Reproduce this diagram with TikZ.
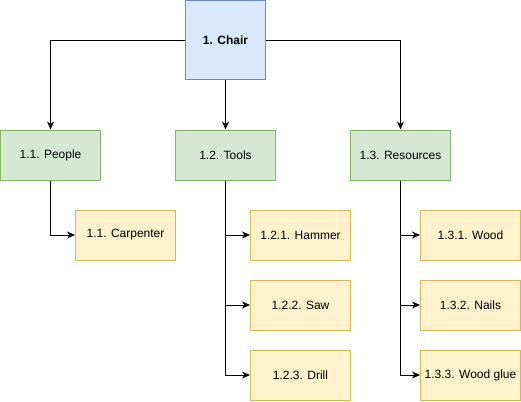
\documentclass[tikz,border=0pt]{standalone}
\usepackage{fontspec}
\setmainfont{Liberation Sans}
\usetikzlibrary{arrows.meta}
\definecolor{bfill}{HTML}{DAE8FC}\definecolor{bline}{HTML}{6C8EBF}
\definecolor{gfill}{HTML}{D5E8D4}\definecolor{gline}{HTML}{82B366}
\definecolor{yfill}{HTML}{FFF2CC}\definecolor{yline}{HTML}{D6B656}
\begin{document}
\begin{tikzpicture}[x=1pt,y=-1pt,
  box/.style={draw,line width=1pt,minimum width=100pt,minimum height=50pt,inner sep=0pt,font=\fontsize{12}{14}\selectfont},
  rootbox/.style={box,fill=bfill,draw=bline,minimum width=80pt,minimum height=79pt,font=\fontsize{12}{14}\selectfont\bfseries},
  lvl/.style={box,fill=gfill,draw=gline},
  leaf/.style={box,fill=yfill,draw=yline},
  conn/.style={line width=1pt,-{Stealth[length=8pt,width=7pt,inset=2.5pt]}}]
\useasboundingbox (0,0) rectangle (521,401);
\node[rootbox] (root) at (225.5,40.5) {1. Chair};
\node[lvl] (people) at (50.5,155) {1.1. People};
\node[lvl] (tools) at (225.5,155) {1.2. Tools};
\node[lvl] (res) at (400.5,155) {1.3. Resources};
\node[leaf] (carp) at (125.5,235) {1.1. Carpenter};
\node[leaf] (hammer) at (300.5,235) {1.2.1. Hammer};
\node[leaf] (saw) at (300.5,305) {1.2.2. Saw};
\node[leaf] (drill) at (300.5,375) {1.2.3. Drill};
\node[leaf] (wood) at (470.5,235) {1.3.1. Wood};
\node[leaf] (nails) at (470.5,305) {1.3.2. Nails};
\node[leaf] (glue) at (470.5,375) {1.3.3. Wood glue};
\draw[conn] (root.west) -| (people.north);
\draw[conn] (root.east) -| (res.north);
\draw[conn] (root.south) -- (tools.north);
\draw[conn] (people.south) |- (carp.west);
\draw[conn] (tools.south) |- (hammer.west);
\draw[conn] (tools.south) |- (saw.west);
\draw[conn] (tools.south) |- (drill.west);
\draw[conn] (res.south) |- (wood.west);
\draw[conn] (res.south) |- (nails.west);
\draw[conn] (res.south) |- (glue.west);
\end{tikzpicture}
\end{document}
